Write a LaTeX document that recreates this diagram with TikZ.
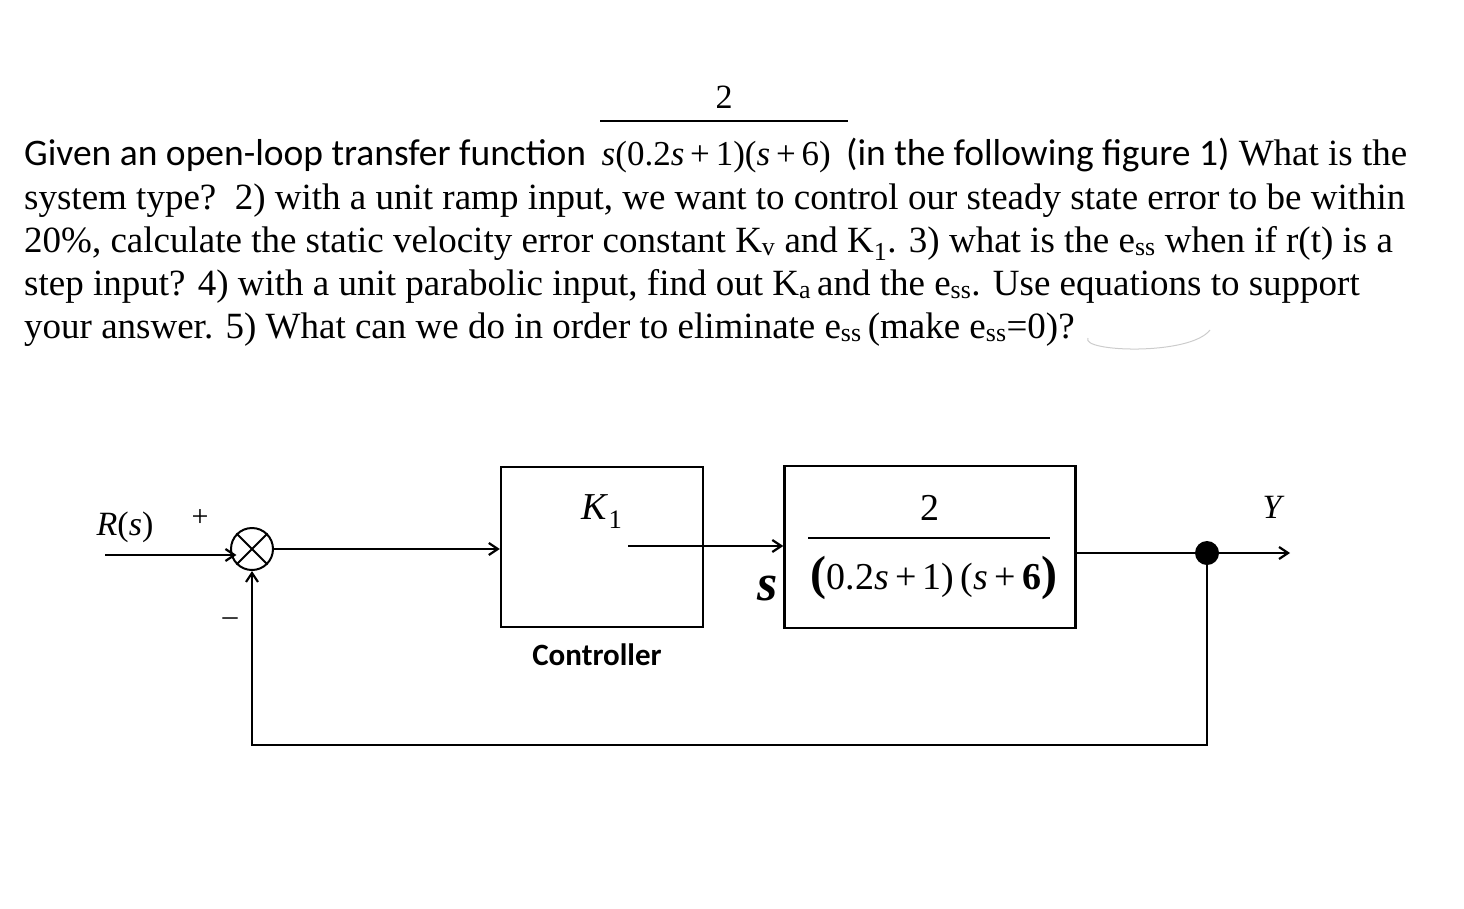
\documentclass[tikz,border=0pt]{standalone}
\usepackage{fontspec}
\setmainfont{Liberation Serif}
\newfontfamily\carl{Carlito}
\usetikzlibrary{arrows.meta}
\begin{document}
\begin{tikzpicture}[x=1pt,y=-1pt,
  ln/.style={line width=2.2pt},
  ar/.style={ln,-{Straight Barb[length=9pt,width=12pt]}},
  blk/.style={draw,line width=2.4pt},
  txt/.style={anchor=base west,inner sep=0pt,font=\fontsize{37}{37}\selectfont}]
\useasboundingbox (0,0) rectangle (1464,908);
% header fraction
\node[inner sep=0pt,font=\fontsize{34}{34}\selectfont] (n2) at (724,97) {2};
\draw[line width=1.2pt] (600,121) -- (848,121);
\node[txt] (l1a) at (24,165) {{\carl\fontsize{37.5}{37.5}\selectfont Given an open-loop transfer function} \,{\fontsize{35}{35}\selectfont\textit{s}(0.2\textit{s}\,+\,1)(\textit{s}\,+\,6)}\, {\carl\fontsize{37.5}{37.5}\selectfont (in the following figure 1)} What is the};
\node[txt] (l2) at (24,209) {system type?\ \ 2) with a unit ramp input, we want to control our steady state error to be within};
\node[txt] (l3) at (24,252) {20\%, calculate the static velocity error constant K\textsubscript{v} and K\textsubscript{1}. 3) what is the e\textsubscript{ss} when if r(t) is a};
\node[txt] (l4) at (24,295) {step input? 4) with a unit parabolic input, find out K\textsubscript{a}\,and the e\textsubscript{ss}. Use equations to support};
\node[txt] (l5) at (24,338) {your answer. 5) What can we do in order to eliminate e\textsubscript{ss}\,(make e\textsubscript{ss}=0)?};
\draw[gray!40,line width=1pt] (1088,338) .. controls (1080,352) and (1190,356) .. (1210,330);
% diagram
\node[draw,circle,line width=2pt,minimum size=42pt,inner sep=0pt] (sum) at (252,549) {};
\draw[line width=2pt] (sum.north west) -- (sum.south east) (sum.north east) -- (sum.south west);
\node[font=\fontsize{34}{34}\selectfont] (R) at (125,527) {\textit{R}(\textit{s})};
\node[font=\fontsize{30}{30}\selectfont] (plus) at (200,518) {+};
\node[font=\fontsize{30}{30}\selectfont] (minus) at (230,622) {--};
\coordinate (in) at (105,555);
\draw[ar] (in) -- (sum.south west|-in);
\node[blk,minimum width=202pt,minimum height=160pt] (c) at (602,547) {};
\node[font=\fontsize{38}{38}\selectfont] (k) at (602,512) {\textit{K}\textsubscript{1}};
\node[font=\carl\bfseries\fontsize{31}{31}\selectfont] (ctl) at (597,655) {Controller};
\draw[ar] (sum.east) -- (c.west|-sum.east);
\node[blk,minimum width=291pt,minimum height=162pt] (p) at (930,547) {};
\node[font=\fontsize{38}{38}\selectfont] (p2) at (930,508) {2};
\draw[line width=1.2pt] (808,538) -- (1050,538);
\node[font=\fontsize{38}{38}\selectfont] (pd) at (934,578) {{\fontsize{48}{48}\selectfont\bfseries(}0.2\textit{s}\,+\,1)\,(\textit{s}\,+\,{\bfseries 6}{\fontsize{48}{48}\selectfont\bfseries)}};
\node[font=\bfseries\itshape\fontsize{52}{52}\selectfont] (ss) at (768,588) {s};
\coordinate (k1o) at (628,546);
\draw[ar] (k1o) -- (p.west|-k1o);
\fill (1207,553) circle (12pt) coordinate (dot);
\coordinate (out) at (1290,553);
\draw[ar] (p.east|-out) -- (out);
\node[font=\fontsize{34}{34}\selectfont\itshape] (Y) at (1272,507) {Y};
\coordinate (fb1) at (1207,745);
\coordinate (fb2) at (252,745);
\draw[ar] (dot) -- (fb1) -- (fb2) -- (sum.south);
\end{tikzpicture}
\end{document}
